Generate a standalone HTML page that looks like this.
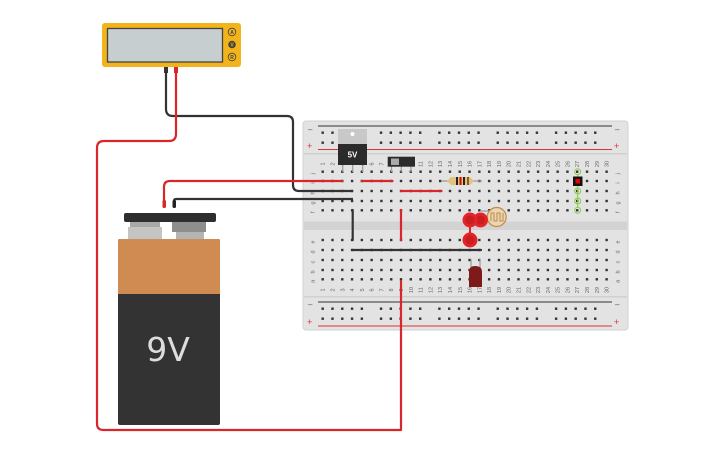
<!DOCTYPE html>
<html><head><meta charset="utf-8"><style>html,body{margin:0;padding:0;background:#fff}svg{display:block}</style></head>
<body>
<svg id="s" width="725" height="453" viewBox="0 0 725 453" xmlns="http://www.w3.org/2000/svg" font-family="Liberation Sans, sans-serif">
<!-- breadboard -->
<rect x="303" y="121" width="325" height="209" rx="3" fill="#e3e3e3" stroke="#d2d2d2"/>
<rect x="304" y="153" width="323" height="1.5" fill="#d0d0d0"/>
<rect x="304" y="221.5" width="323" height="8.5" fill="#d3d3d3"/>
<rect x="304" y="296" width="323" height="1.5" fill="#d0d0d0"/>
<line x1="318" y1="126" x2="612" y2="126" stroke="#333" stroke-width="1"/>
<line x1="318" y1="149.5" x2="612" y2="149.5" stroke="#d33" stroke-width="1"/>
<line x1="318" y1="302" x2="612" y2="302" stroke="#333" stroke-width="1"/>
<line x1="318" y1="326" x2="612" y2="326" stroke="#d33" stroke-width="1"/>
<g font-size="9" fill="#d33"><text x="307" y="149">+</text><text x="614" y="149">+</text><text x="307" y="325">+</text><text x="614" y="325">+</text></g>
<g font-size="8" fill="#555"><text x="308" y="132">–</text><text x="615" y="132">–</text><text x="308" y="307">–</text><text x="615" y="307">–</text></g>
<g id="holes" fill="#333"></g>
<g id="labels" font-size="5.5" fill="#666" text-anchor="middle"></g>
<!-- green col 27 -->
<g fill="none" stroke="#8c4" stroke-width="1"><circle cx="577.7" cy="171.7" r="3"/><circle cx="577.7" cy="191" r="3"/><circle cx="577.7" cy="201" r="3"/><circle cx="577.7" cy="210.3" r="3"/>
<line x1="577.7" y1="174.7" x2="577.7" y2="207.3"/></g>
<rect x="573" y="176.5" width="9.5" height="9.5" fill="#111"/><rect x="575.5" y="179" width="4.5" height="4.5" fill="#e00"/>
<!-- regulator -->
<rect x="338" y="129" width="29" height="16" fill="#c8c8c8"/><circle cx="352.5" cy="134" r="2" fill="#fff"/>
<rect x="338" y="144" width="29" height="21" fill="#2b2b2b"/>
<text x="352.5" y="157.5" font-size="8" fill="#fff" text-anchor="middle" font-weight="bold">5V</text>
<g stroke="#999" stroke-width="1.2"><line x1="342.7" y1="165" x2="342.7" y2="172"/><line x1="352.7" y1="165" x2="352.7" y2="172"/><line x1="362.7" y1="165" x2="362.7" y2="172"/></g>
<!-- switch -->
<g stroke="#999" stroke-width="1.2"><line x1="391.5" y1="166" x2="391.5" y2="172"/><line x1="401.3" y1="166" x2="401.3" y2="172"/><line x1="411" y1="166" x2="411" y2="172"/></g>
<rect x="387.7" y="156.7" width="27.3" height="10" fill="#2b2b2b"/><rect x="391" y="158.5" width="8" height="6.5" fill="#aaa"/>
<!-- resistor -->
<line x1="442" y1="181" x2="482" y2="181" stroke="#999" stroke-width="1.2"/>
<path d="M447 181 L451 177 H470 L474 181 L470 185 H451 Z" fill="#e1c27f"/>
<rect x="456" y="177" width="2" height="8" fill="#222"/><rect x="459.5" y="177" width="2" height="8" fill="#d00"/><rect x="463" y="177" width="2" height="8" fill="#222"/><rect x="467" y="177" width="2" height="8" fill="#8a5a2b"/>
<!-- wires on board -->
<g fill="none" stroke-width="2.2" stroke-linecap="round">
<line x1="362" y1="181" x2="392.5" y2="181" stroke="#d8262a"/>
<line x1="401" y1="191" x2="441.5" y2="191" stroke="#d8262a"/>
<line x1="401" y1="210" x2="401" y2="240" stroke="#d8262a"/>
<line x1="352.7" y1="210" x2="352.7" y2="240" stroke="#333"/>
<line x1="352" y1="250" x2="481" y2="250" stroke="#333"/>
</g>
<!-- photoresistor -->
<line x1="481" y1="211" x2="490" y2="211" stroke="#999" stroke-width="1.2"/>
<circle cx="496.7" cy="217" r="9.5" fill="#ead6b0" stroke="#c08a4a" stroke-width="1.2"/>
<path d="M491 221 V213 H494 V221 H497 V213 H500 V221 H503 V213" fill="none" stroke="#c08a4a" stroke-width="1"/>
<!-- red connectors -->
<line x1="470" y1="220" x2="470" y2="240" stroke="#d8262a" stroke-width="2"/>
<circle cx="480.5" cy="220" r="7.5" fill="#e52228"/><circle cx="480.5" cy="220" r="4.5" fill="#c81e22"/>
<circle cx="470" cy="220" r="7.5" fill="#e52228"/><circle cx="470" cy="220" r="4.5" fill="#c81e22"/>
<circle cx="470" cy="240" r="7.5" fill="#e52228"/><circle cx="470" cy="240" r="4.5" fill="#c81e22"/>
<!-- LED -->
<g stroke="#999" stroke-width="1.2"><line x1="471" y1="259" x2="471" y2="270"/><line x1="480" y1="259" x2="480" y2="270"/></g>
<path d="M469 272 Q469 266 475 266 Q482 266 482 272 V287 H469 Z" fill="#7e1a1a"/>
<!-- multimeter -->
<rect x="102" y="23" width="139" height="44" rx="3" fill="#f2b31b"/>
<rect x="107.5" y="28.5" width="115" height="33.5" fill="#c6ced0" stroke="#444" stroke-width="1.3"/>
<g font-size="5" text-anchor="middle" font-weight="bold">
<circle cx="232" cy="32" r="3.8" fill="none" stroke="#444" stroke-width="0.8"/><text x="232" y="34" fill="#444">A</text>
<circle cx="232" cy="44.5" r="3.8" fill="#444"/><text x="232" y="46.5" fill="#f2b31b">V</text>
<circle cx="232" cy="57" r="3.8" fill="none" stroke="#444" stroke-width="0.8"/><text x="232" y="59" fill="#444">R</text></g>
<rect x="164" y="67" width="4" height="6" fill="#333"/><rect x="174" y="67" width="4" height="6" fill="#d8262a"/>
<!-- long wires -->
<g fill="none" stroke-width="2.2" stroke-linejoin="round">
<path d="M166 72 V109 Q166 116 173 116 H287 Q293 116 293 122 V185 Q293 191 299 191 H353" stroke="#333"/>
<path d="M176 72 V134 Q176 141 169 141 H104 Q97 141 97 148 V424 Q97 430 104 430 H401 V280" stroke="#d8262a"/>
<path d="M164 204 V187 Q164 181 170 181 H343" stroke="#d8262a"/>
<path d="M174 204 V201 Q174 199 176 199 H353" stroke="#333"/>
</g>
<!-- battery -->
<rect x="162.5" y="200" width="3.5" height="8" rx="1.5" fill="#d8262a"/><rect x="172.5" y="200" width="3.5" height="8" rx="1.5" fill="#222"/>
<rect x="124" y="213" width="92" height="9" rx="2" fill="#2e2e2e"/>
<rect x="130" y="222" width="30" height="5" fill="#a8a8a8"/><rect x="128" y="227" width="34" height="12" fill="#c4c4c4"/>
<rect x="172" y="222" width="34" height="10" fill="#8e8e8e"/><rect x="176" y="232" width="28" height="7" fill="#b4b4b4"/>
<rect x="118" y="239" width="102" height="186" rx="2" fill="#333"/>
<path d="M120 239 H218 Q220 239 220 241 V294 H118 V241 Q118 239 120 239 Z" fill="#cf8b52"/>
<text x="168" y="361" font-size="33" fill="#ddd" text-anchor="middle" font-family="DejaVu Sans, sans-serif">9V</text>
</svg>
<script>
var ns="http://www.w3.org/2000/svg",H=document.getElementById("holes"),L=document.getElementById("labels");
function c(x,y){var e=document.createElementNS(ns,"rect");e.setAttribute("x",x-1.2);e.setAttribute("y",y-1.2);e.setAttribute("width",2.4);e.setAttribute("height",2.4);H.appendChild(e);}
function t(x,y,s,r){var e=document.createElementNS(ns,"text");e.setAttribute("x",x);e.setAttribute("y",y);e.textContent=s;if(r)e.setAttribute("transform","rotate(-90 "+x+" "+y+")");L.appendChild(e);}
var p=9.79,x0=322.7,rows=[171.7,181,191,201,210.3,240,250,260,270,279.3],lt="jihgfedcba";
for(var i=0;i<30;i++){var x=x0+i*p;for(var r=0;r<10;r++)c(x,rows[r]);t(x+2,164,String(i+1),1);t(x+2,290,String(i+1),1);}
for(var r=0;r<10;r++){t(314.5,rows[r]+2,lt[r],1);t(619.5,rows[r]+2,lt[r],1);}
var ry=[132.7,142.7,308.7,318.7];
for(var g=0;g<5;g++)for(var k=0;k<5;k++){var x=x0+(g*5.96+k)*p;for(var j=0;j<4;j++)c(x,ry[j]);}
</script>
</body></html>
